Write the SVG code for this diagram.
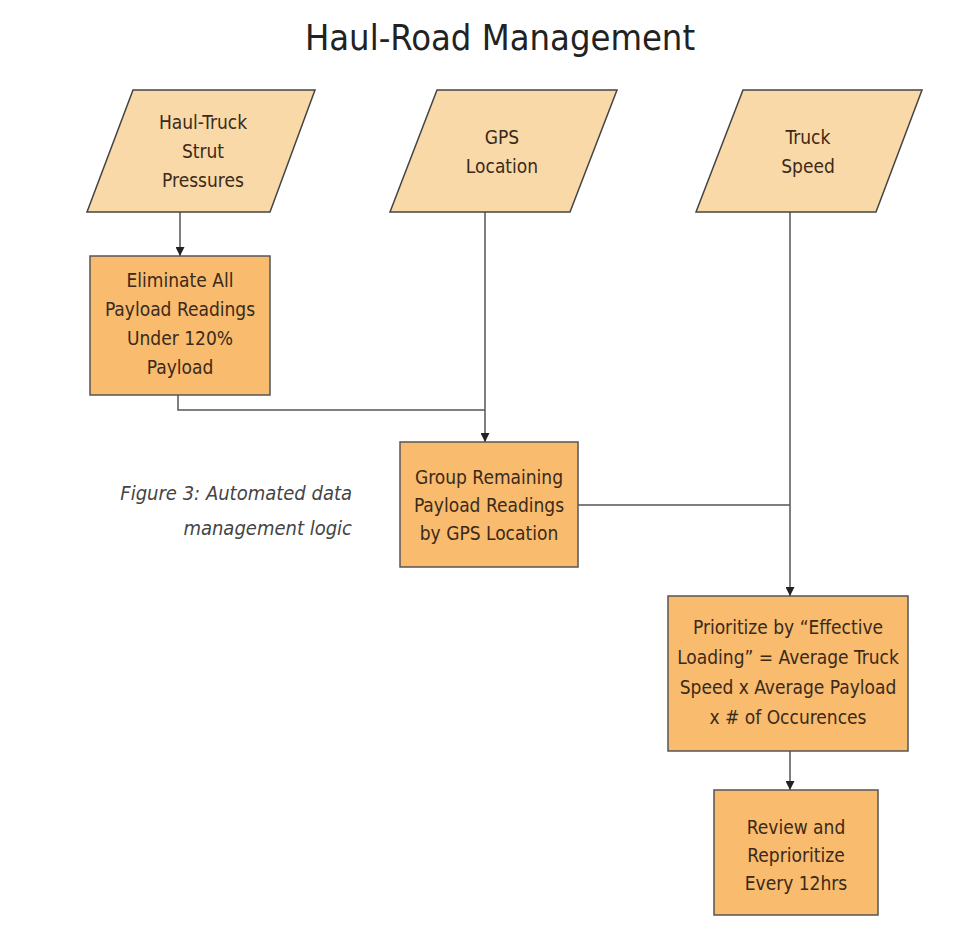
<svg xmlns="http://www.w3.org/2000/svg" width="980" height="943" viewBox="0 0 980 943">
<style>
text{font-family:"DejaVu Sans","Liberation Sans",sans-serif;font-stretch:condensed;fill:#3a2a1a;text-anchor:middle;font-size:19px}
.in{fill:#FAD9A8;stroke:#444;stroke-width:1.5}
.pr{fill:#F9BB6E;stroke:#555;stroke-width:1.5}
.c{fill:none;stroke:#555;stroke-width:1.5}
.t{font-size:36px;fill:#222}
.cap{font-style:italic;text-anchor:end;fill:#444;font-size:20px}
</style>
<defs><marker id="a" viewBox="0 0 10 10" refX="10" refY="5" markerWidth="9" markerHeight="9" orient="auto" markerUnits="userSpaceOnUse"><path d="M0,0L10,5L0,10z" fill="#222"/></marker></defs>
<rect width="980" height="943" fill="#fff"/>
<text class="t" x="500" y="50">Haul-Road Management</text>
<g id="connectors">
<path class="c" d="M180,212V256" marker-end="url(#a)"/>
<path class="c" d="M178,395V410H485"/>
<path class="c" d="M485,212V442" marker-end="url(#a)"/>
<path class="c" d="M578,505H790"/>
<path class="c" d="M790,212V596" marker-end="url(#a)"/>
<path class="c" d="M790,751V790" marker-end="url(#a)"/>
</g>
<g id="n1"><polygon class="in" points="133,90 315,90 270,212 87,212"/><text x="203" y="129">Haul-Truck</text><text x="203" y="158">Strut</text><text x="203" y="187">Pressures</text></g>
<g id="n2"><polygon class="in" points="437,90 617,90 570,212 390,212"/><text x="502" y="144">GPS</text><text x="502" y="173">Location</text></g>
<g id="n3"><polygon class="in" points="743,90 922,90 876,212 696,212"/><text x="808" y="144">Truck</text><text x="808" y="173">Speed</text></g>
<g id="n4"><rect class="pr" x="90" y="256" width="180" height="139"/><text x="180" y="287">Eliminate All</text><text x="180" y="316">Payload Readings</text><text x="180" y="345">Under 120%</text><text x="180" y="374">Payload</text></g>
<g id="n5"><rect class="pr" x="400" y="442" width="178" height="125"/><text x="489" y="484">Group Remaining</text><text x="489" y="512">Payload Readings</text><text x="489" y="540">by GPS Location</text></g>
<g id="n6"><rect class="pr" x="668" y="596" width="240" height="155"/><text x="788" y="634">Prioritize by “Effective</text><text x="788" y="664">Loading” = Average Truck</text><text x="788" y="694">Speed x Average Payload</text><text x="788" y="724">x # of Occurences</text></g>
<g id="n7"><rect class="pr" x="714" y="790" width="164" height="125"/><text x="796" y="834">Review and</text><text x="796" y="862">Reprioritize</text><text x="796" y="890">Every 12hrs</text></g>
<text class="cap" x="352" y="500">Figure 3: Automated data</text>
<text class="cap" x="352" y="535">management logic</text>
</svg>
